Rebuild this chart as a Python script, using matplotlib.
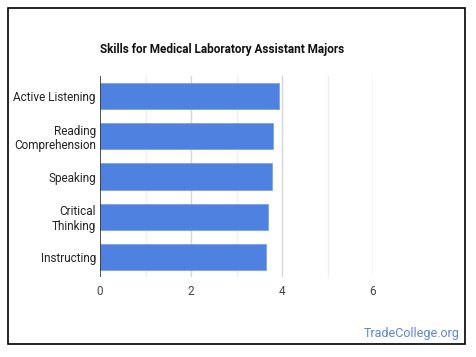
import matplotlib
matplotlib.use("Agg")
import matplotlib.pyplot as plt
from matplotlib.patches import Rectangle

plt.rcParams['font.family'] = ['Roboto', 'DejaVu Sans']

categories = ["Active Listening", "Reading\nComprehension", "Speaking", "Critical\nThinking", "Instructing"]
values = [3.94, 3.81, 3.77, 3.70, 3.64]
xticks = [0, 2, 4, 6]

W, H = 476, 357
fig = plt.figure(figsize=(W/100, H/100), dpi=100)
fig.patch.set_facecolor('white')

# outer border
fig.add_artist(Rectangle((7.5/W, 1 - 343.5/H), (465-7.5)/W, (343.5-8)/H,
                         transform=fig.transFigure, fill=False, edgecolor='black', linewidth=1.2))

left, right, top, bottom = 100, 373, 76, 277
ax = fig.add_axes([left/W, 1 - bottom/H, (right-left)/W, (bottom-top)/H])

ypos = list(range(len(categories)))
ax.barh(ypos, values, height=0.65, color='#4f81e0', edgecolor='#7aa2ea', linewidth=0.6, zorder=3)
ax.set_ylim(len(categories) - 0.5, -0.5)
ax.set_xlim(0, 6)

for v in [1, 3, 5]:
    ax.axvline(v, color='#efefef', linewidth=1, zorder=1)
for v in [2, 4, 6]:
    ax.axvline(v, color='#d6d6d6', linewidth=1, zorder=1)
ax.axvline(0, color='#333333', linewidth=1.2, zorder=4)

for s in ax.spines.values():
    s.set_visible(False)

ax.set_xticks(xticks)
ax.set_xticklabels([str(t) for t in xticks], fontsize=8.5, color='#444444')
ax.tick_params(axis='x', length=0, pad=6)
ax.set_yticks(ypos)
ax.set_yticklabels(categories, fontsize=8.5, color='#222222', linespacing=1.15)
ax.tick_params(axis='y', length=0, pad=3)

fig.text(100/W, 1 - 50/H, "Skills for Medical Laboratory Assistant Majors", fontsize=8.5,
         fontweight='bold', color='#111111', ha='left', va='center')
fig.text(460/W, 1 - 334/H, "TradeCollege.org", fontsize=9, color='#5b86d6', ha='right', va='center')

fig.savefig("out.png", dpi=100)
